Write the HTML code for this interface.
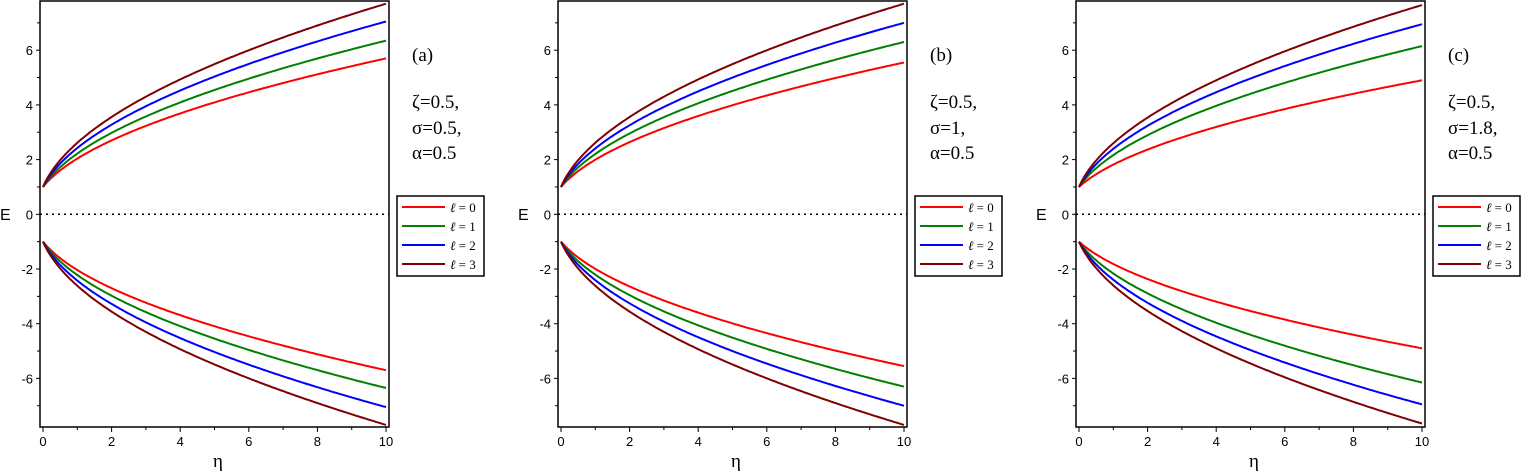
<!DOCTYPE html>
<html><head><meta charset="utf-8"><style>
body{margin:0;background:#fff;}
svg{display:block;font-family:"Liberation Sans",sans-serif;}
.t{font-size:13px;}
.s{font-family:"Liberation Serif",serif;font-size:19px;}
</style></head><body>
<svg id="c" width="1521" height="471" xmlns="http://www.w3.org/2000/svg"></svg>
<script>
const svg=document.getElementById('c');
const panels=[
 {off:0,lab:'(a)',sig:'σ=0.5,',E:[5.7,6.35,7.05,7.7]},
 {off:518,lab:'(b)',sig:'σ=1,',E:[5.55,6.3,7.0,7.7]},
 {off:1036,lab:'(c)',sig:'σ=1.8,',E:[4.9,6.15,6.95,7.65]}];
const cols=['#ff0000','#008000','#0000ff','#800000'];
let h='';
const Y=v=>214.3-v*27.35;
for(const p of panels){
 const o=p.off, X=v=>o+43+v*34.3;
 h+=`<rect x="${o+40}" y="1" width="349" height="426" fill="none" stroke="#000" stroke-width="1.5"/>`;
 h+=`<line x1="${o+40}" y1="214.3" x2="${o+389}" y2="214.3" stroke="#000" stroke-width="1.5" stroke-dasharray="2,4"/>`;
 for(let i=0;i<=10;i++){const x=X(i);h+=`<line x1="${x}" y1="427" x2="${x}" y2="${i%2?430:432}" stroke="#000"/>`;
  if(i%2==0)h+=`<text class="t" x="${x}" y="446" text-anchor="middle">${i}</text>`;}
 for(let v=-6;v<=6;v+=2){const y=Y(v);h+=`<line x1="${o+36}" y1="${y}" x2="${o+40}" y2="${y}" stroke="#000"/>`;
  h+=`<text class="t" x="${o+33}" y="${y+5}" text-anchor="end">${v}</text>`;}
 for(let v=-7;v<=7;v+=2){const y=Y(v);h+=`<line x1="${o+37}" y1="${y}" x2="${o+40}" y2="${y}" stroke="#000"/>`;}
 h+=`<text x="${o+0}" y="220" font-size="16">E</text>`;
 h+=`<text class="s" x="${o+218}" y="467" text-anchor="middle">η</text>`;
 p.E.forEach((e,j)=>{const k=(e*e-1)/10;
  for(const sg of [1,-1]){let d='';for(let i=0;i<=200;i++){const t=i/20;d+=(i?'L':'M')+X(t).toFixed(1)+','+Y(sg*Math.sqrt(1+k*t)).toFixed(1);}
   h+=`<path d="${d}" fill="none" stroke="${cols[j]}" stroke-width="2"/>`;}});
 h+=`<text class="s" x="${o+412}" y="61">${p.lab}</text>`;
 h+=`<text class="s" x="${o+412}" y="108">ζ=0.5,</text>`;
 h+=`<text class="s" x="${o+412}" y="134">${p.sig}</text>`;
 h+=`<text class="s" x="${o+412}" y="159">α=0.5</text>`;
 h+=`<rect x="${o+397}" y="196" width="87" height="80" fill="#fff" stroke="#000" stroke-width="1.5"/>`;
 for(let j=0;j<4;j++){const y=207+j*19;
  h+=`<line x1="${o+402}" y1="${y}" x2="${o+445}" y2="${y}" stroke="${cols[j]}" stroke-width="2"/>`;
  h+=`<text x="${o+450}" y="${y+5}" font-family="Liberation Serif,serif" font-size="13"><tspan font-style="italic">ℓ</tspan> = ${j}</text>`;}
}
svg.innerHTML=h;
</script>
</body></html>
